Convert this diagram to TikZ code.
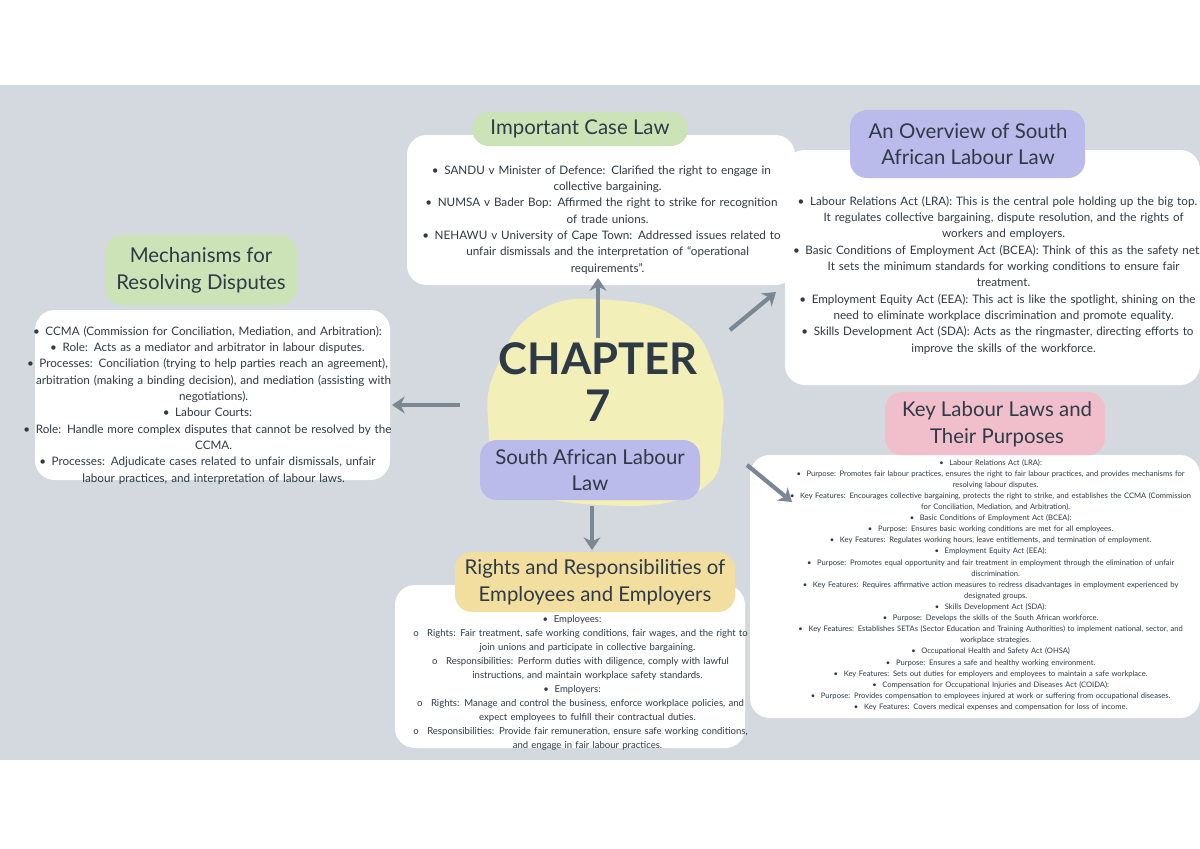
\documentclass[tikz,border=0pt]{standalone}
\usepackage{fontspec}
\setmainfont{Lato}
\usepackage{enumitem}
\usetikzlibrary{arrows.meta}
\setlist[itemize,1]{leftmargin=8pt,labelsep=4pt,label=\textbullet,nosep}
\setlist[itemize,2]{leftmargin=14pt,labelsep=6pt,label=o,nosep}
\newcommand\ci{\item\centering}
\definecolor{bg}{HTML}{D4D9E0}
\definecolor{ink}{HTML}{2E3A45}
\definecolor{arr}{HTML}{7B8894}
\definecolor{gr}{HTML}{CBE3B6}
\definecolor{pu}{HTML}{BABBEA}
\definecolor{ye}{HTML}{F2DF9F}
\definecolor{pk}{HTML}{F1BFCC}
\definecolor{blob}{HTML}{F2EFB8}
\begin{document}
\begin{tikzpicture}[x=0.025cm,y=-0.025cm,
  card/.style={fill=white,rounded corners=14pt,draw=none},
  pill/.style={rounded corners=12pt,draw=none},
  ttl/.style={font=\fontsize{14.5}{19}\selectfont,text=ink,align=center},
  body/.style={font=\fontsize{8.3}{11.6}\selectfont,text=ink,anchor=north},
  small/.style={font=\fontsize{5.4}{7.9}\selectfont,text=ink,anchor=north},
  con/.style={draw=arr,line width=3pt,-{Stealth[length=9pt,width=12pt]}}]
\useasboundingbox (0,0) rectangle (1200,848);
\fill[bg] (0,85) rectangle (1200,760);
% blob
\fill[blob] plot[smooth cycle,tension=0.8] coordinates {(500,360)(540,310)(610,300)(680,320)(715,370)(722,430)(700,490)(600,505)(510,480)(488,420)};
\node[text=ink,font=\bfseries\fontsize{31}{33}\selectfont,align=center] (chap) at (598,382) {CHAPTER\\7};
\fill[pu,pill] (480,440) rectangle (700,500);
\node[ttl] (sal) at (590,470) {South African Labour\\Law};
% case law
\fill[card] (407,135) rectangle (795,285);
\fill[gr,pill] (472,112) rectangle (688,146);
\node[ttl] (tcase) at (580,129) {Important Case Law};
\node[body,text width=255pt] (case) at (602,153) {\begin{itemize}
\ci SANDU v Minister of Defence: Clarified the right to engage in collective bargaining.
\ci NUMSA v Bader Bop: Affirmed the right to strike for recognition of trade unions.
\ci NEHAWU v University of Cape Town: Addressed issues related to unfair dismissals and the interpretation of ``operational requirements''.
\end{itemize}};
% overview
\fill[card] (785,150) rectangle (1200,385);
\fill[pu,pill] (850,110) rectangle (1085,178);
\node[ttl] (tov) at (968,144) {An Overview of South\\African Labour Law};
\node[body,text width=290pt] (ov) at (998,184) {\begin{itemize}
\ci Labour Relations Act (LRA): This is the central pole holding up the big top. It regulates collective bargaining, dispute resolution, and the rights of workers and employers.
\ci Basic Conditions of Employment Act (BCEA): Think of this as the safety net. It sets the minimum standards for working conditions to ensure fair treatment.
\ci Employment Equity Act (EEA): This act is like the spotlight, shining on the need to eliminate workplace discrimination and promote equality.
\ci Skills Development Act (SDA): Acts as the ringmaster, directing efforts to improve the skills of the workforce.
\end{itemize}};
% mechanisms
\fill[card] (35,310) rectangle (390,480);
\fill[gr,pill] (105,235) rectangle (297,305);
\node[ttl] (tmech) at (201,270) {Mechanisms for\\Resolving Disputes};
\node[body,text width=262pt] (mech) at (208,314) {\begin{itemize}
\ci CCMA (Commission for Conciliation, Mediation, and Arbitration):
\ci Role: Acts as a mediator and arbitrator in labour disputes.
\ci Processes: Conciliation (trying to help parties reach an agreement), arbitration (making a binding decision), and mediation (assisting with negotiations).
\ci Labour Courts:
\ci Role: Handle more complex disputes that cannot be resolved by the CCMA.
\ci Processes: Adjudicate cases related to unfair dismissals, unfair labour practices, and interpretation of labour laws.
\end{itemize}};
% rights
\fill[card] (395,585) rectangle (745,748);
\fill[ye,pill] (455,552) rectangle (735,612);
\node[ttl] (trig) at (595,582) {Rights and Responsibilities of\\Employees and Employers};
\node[small,font=\fontsize{6.8}{9.9}\selectfont,text width=250pt] (rig) at (572,604) {\begin{itemize}
\ci Employees:
\begin{itemize}
\ci Rights: Fair treatment, safe working conditions, fair wages, and the right to join unions and participate in collective bargaining.
\ci Responsibilities: Perform duties with diligence, comply with lawful instructions, and maintain workplace safety standards.
\end{itemize}
\ci Employers:
\begin{itemize}
\ci Rights: Manage and control the business, enforce workplace policies, and expect employees to fulfill their contractual duties.
\ci Responsibilities: Provide fair remuneration, ensure safe working conditions, and engage in fair labour practices.
\end{itemize}
\end{itemize}};
% key laws
\fill[card] (750,455) rectangle (1200,718);
\fill[pk,pill] (885,392) rectangle (1105,455);
\node[ttl] (tkey) at (997,424) {Key Labour Laws and\\Their Purposes};
\node[small,text width=292pt] (key) at (990,449) {\begin{itemize}
\ci Labour Relations Act (LRA):
\ci Purpose: Promotes fair labour practices, ensures the right to fair labour practices, and provides mechanisms for resolving labour disputes.
\ci Key Features: Encourages collective bargaining, protects the right to strike, and establishes the CCMA (Commission for Conciliation, Mediation, and Arbitration).
\ci Basic Conditions of Employment Act (BCEA):
\ci Purpose: Ensures basic working conditions are met for all employees.
\ci Key Features: Regulates working hours, leave entitlements, and termination of employment.
\ci Employment Equity Act (EEA):
\ci Purpose: Promotes equal opportunity and fair treatment in employment through the elimination of unfair discrimination.
\ci Key Features: Requires affirmative action measures to redress disadvantages in employment experienced by designated groups.
\ci Skills Development Act (SDA):
\ci Purpose: Develops the skills of the South African workforce.
\ci Key Features: Establishes SETAs (Sector Education and Training Authorities) to implement national, sector, and workplace strategies.
\ci Occupational Health and Safety Act (OHSA)
\ci Purpose: Ensures a safe and healthy working environment.
\ci Key Features: Sets out duties for employers and employees to maintain a safe workplace.
\ci Compensation for Occupational Injuries and Diseases Act (COIDA):
\ci Purpose: Provides compensation to employees injured at work or suffering from occupational diseases.
\ci Key Features: Covers medical expenses and compensation for loss of income.
\end{itemize}};
% connectors
\coordinate (c1) at (598,338); \coordinate (c2) at (730,330);
\coordinate (c3) at (460,405); \coordinate (c4) at (592,506);
\coordinate (c5) at (747,465);
\coordinate (e1) at (598,278); \coordinate (e2) at (776,292);
\coordinate (e3) at (392,405); \coordinate (e4) at (592,550);
\coordinate (e5) at (792,502);
\draw[con] (c1) -- (e1);
\draw[con] (c2) -- (e2);
\draw[con] (c3) -- (e3);
\draw[con] (c4) -- (e4);
\draw[con] (c5) -- (e5);
\end{tikzpicture}
\end{document}
